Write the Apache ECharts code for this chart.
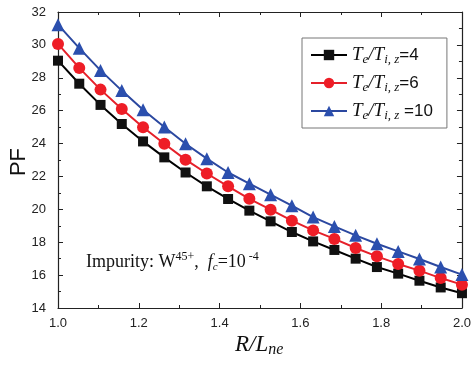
<!DOCTYPE html>
<html><head><meta charset="utf-8">
<script src="https://cdn.jsdelivr.net/npm/echarts@6/dist/echarts.min.js"></script>
<style>html,body{margin:0;padding:0;background:#fff}#c{width:474px;height:369px}</style>
</head><body><div id="c"></div>
<script>
const xValues = Array.from({length:20},(_,i)=>1+i/19); // 20 evenly spaced points from 1.0 to 2.0
const seriesNames = ['Te/Ti,z=4','Te/Ti,z=6','Te/Ti,z=10'];
const pf4  = [29.04,27.64,26.35,25.19,24.13,23.16,22.24,21.40,20.63,19.92,19.27,18.62,18.05,17.53,17.00,16.49,16.09,15.66,15.25,14.90];
const pf6  = [30.06,28.60,27.28,26.10,24.99,23.99,23.02,22.18,21.40,20.64,19.98,19.31,18.72,18.20,17.65,17.14,16.68,16.27,15.82,15.42];
const pf10 = [31.23,29.80,28.45,27.22,26.06,25.01,23.99,23.08,22.24,21.56,20.89,20.22,19.53,18.96,18.42,17.91,17.44,16.98,16.49,16.03];
const xTicks = [1.0,1.2,1.4,1.6,1.8,2.0];
const yTicks = [14,16,18,20,22,24,26,28,30,32];

const chart = echarts.init(document.getElementById('c'));
const pair = arr => xValues.map((x,i)=>[x,arr[i]]);
const legendLabels = {
  [seriesNames[0]]:'{it|T}{sub|e}{it|/T}{sub|i, z}{n|=4}',
  [seriesNames[1]]:'{it|T}{sub|e}{it|/T}{sub|i, z}{n|=6}',
  [seriesNames[2]]:'{it|T}{sub|e}{it|/T}{sub|i, z}{n| =10}'
};
const axisCommon = {
  min:1.0,max:2.0,interval:0.2,
  axisLine:{lineStyle:{color:'#222',width:1.2}},
  axisTick:{inside:true,length:5,lineStyle:{color:'#222'}},
  minorTick:{show:true,splitNumber:2,length:3,lineStyle:{color:'#222'}},
  splitLine:{show:false}
};
const yCommon = {
  min:14,max:32,interval:2,
  axisLine:{lineStyle:{color:'#222',width:1.2}},
  axisTick:{inside:true,length:5,lineStyle:{color:'#222'}},
  minorTick:{show:true,splitNumber:2,length:3,lineStyle:{color:'#222'}},
  splitLine:{show:false}
};
chart.setOption({
  animation:false,
  grid:{left:58,right:11,top:12,bottom:61},
  xAxis:[
    Object.assign({type:'value',position:'bottom',
      axisLabel:{fontFamily:'Liberation Sans',fontSize:13,color:'#222',margin:9,
        formatter:v=>xTicks.find(t=>Math.abs(t-v)<1e-6)!==undefined? v.toFixed(1):''}},axisCommon),
    Object.assign({type:'value',position:'top',axisLabel:{show:false}},axisCommon)
  ],
  yAxis:[
    Object.assign({type:'value',position:'left',
      axisLabel:{fontFamily:'Liberation Sans',fontSize:13,color:'#222',margin:12,
        formatter:v=>yTicks.includes(v)?String(v):''}},yCommon),
    Object.assign({type:'value',position:'right',axisLabel:{show:false}},yCommon)
  ],
  legend:{
    left:302,top:38,orient:'vertical',
    data:seriesNames,
    borderColor:'#777',borderWidth:1,padding:[6,14,6,8],
    itemWidth:36,itemHeight:13,itemGap:6,
    formatter:n=>legendLabels[n],
    textStyle:{
      rich:{
        it:{fontFamily:'Liberation Serif',fontStyle:'italic',fontSize:19,color:'#111',lineHeight:22},
        sub:{fontFamily:'Liberation Serif',fontStyle:'italic',fontSize:13,color:'#111',padding:[9,0,0,0],lineHeight:22},
        n:{fontFamily:'Liberation Sans',fontSize:17,color:'#111',lineHeight:22}
      }
    }
  },
  graphic:[
    {type:'text',left:8,top:148,rotation:Math.PI/2,
      style:{text:'PF',font:'22px "Liberation Sans"',fill:'#111'}},
    {type:'text',left:235,top:332,
      style:{text:'{i|R/L}{s|ne}',rich:{
        i:{fontFamily:'Liberation Serif',fontStyle:'italic',fontSize:23,fill:'#111',lineHeight:26},
        s:{fontFamily:'Liberation Serif',fontStyle:'italic',fontSize:16,fill:'#111',padding:[10,0,0,0],lineHeight:26}}}},
    {type:'text',left:86,top:251,
      style:{text:'{r|Impurity: W}{sup|45+}{r|,  }{i|f}{sub|c}{r|=10}{sup| -4}',rich:{
        r:{fontFamily:'Liberation Serif',fontSize:18,fill:'#111',lineHeight:24},
        i:{fontFamily:'Liberation Serif',fontStyle:'italic',fontSize:18,fill:'#111',lineHeight:24},
        sup:{fontFamily:'Liberation Serif',fontSize:12,fill:'#111',padding:[0,0,10,0],lineHeight:24},
        sub:{fontFamily:'Liberation Serif',fontStyle:'italic',fontSize:11,fill:'#111',padding:[10,0,0,0],lineHeight:24}}}}
  ],
  series:[
    {name:seriesNames[0],type:'line',data:pair(pf4),symbol:'rect',symbolSize:10,
      lineStyle:{color:'#000',width:2},itemStyle:{color:'#111'}},
    {name:seriesNames[1],type:'line',data:pair(pf6),symbol:'circle',symbolSize:12,
      lineStyle:{color:'#e5202a',width:2},itemStyle:{color:'#ee1d26'}},
    {name:seriesNames[2],type:'line',data:pair(pf10),symbol:'triangle',symbolSize:13,
      lineStyle:{color:'#2b48a0',width:2},itemStyle:{color:'#2b4fae'}}
  ]
});
</script></body></html>
